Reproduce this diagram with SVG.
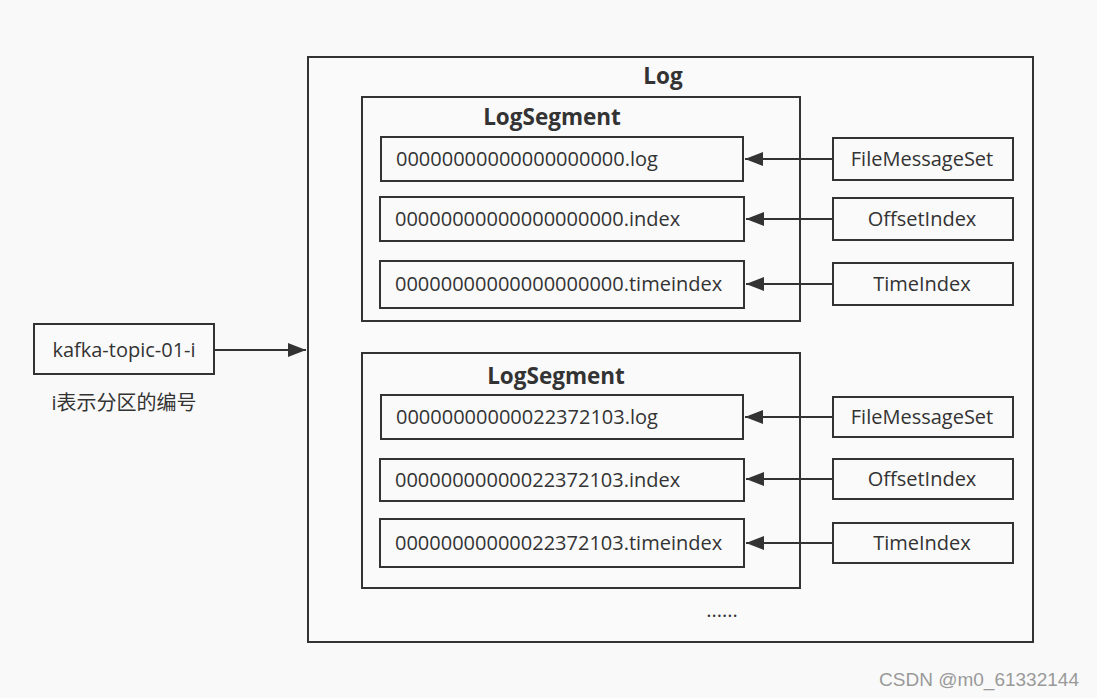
<svg xmlns="http://www.w3.org/2000/svg" width="1097" height="698" viewBox="0 0 1097 698">
<style>
.b{fill:#fafafa;stroke:#333;stroke-width:2}
.t{font-family:"Open Sans","Noto Sans CJK SC",sans-serif;font-size:20px;fill:#333}
.h{font-family:"Open Sans",sans-serif;font-size:22.5px;font-weight:bold;fill:#333}
.c{stroke:#333;stroke-width:2;fill:none;marker-end:url(#a)}
</style>
<defs><marker id="a" markerWidth="18" markerHeight="14" refX="18" refY="7" orient="auto" markerUnits="userSpaceOnUse" viewBox="0 0 18 14"><path d="M0,0L18,7L0,14z" fill="#333"/></marker></defs>
<rect width="1097" height="698" fill="#f9f9f9"/>
<g id="log"><rect class="b" x="308" y="57" width="725" height="585"/><text class="h" x="663" y="84" text-anchor="middle">Log</text><text class="t" x="722" y="617" text-anchor="middle" font-size="13">......</text></g>
<g id="seg1"><rect class="b" x="362" y="97" width="438" height="224"/><text class="h" x="552" y="125" text-anchor="middle">LogSegment</text></g>
<g id="seg2"><rect class="b" x="362" y="353" width="438" height="235"/><text class="h" x="556" y="384" text-anchor="middle">LogSegment</text></g>
<g id="f1"><rect class="b" x="381" y="137" width="362" height="44"/><text class="t" x="396" y="166">00000000000000000000.log</text></g>
<g id="f2"><rect class="b" x="380" y="197" width="364" height="44"/><text class="t" x="395" y="226">00000000000000000000.index</text></g>
<g id="f3"><rect class="b" x="380" y="261" width="364" height="47"/><text class="t" x="395" y="291">00000000000000000000.timeindex</text></g>
<g id="f4"><rect class="b" x="381" y="395" width="362" height="44"/><text class="t" x="396" y="424">00000000000022372103.log</text></g>
<g id="f5"><rect class="b" x="380" y="459" width="364" height="42"/><text class="t" x="395" y="487">00000000000022372103.index</text></g>
<g id="f6"><rect class="b" x="380" y="519" width="364" height="48"/><text class="t" x="395" y="550">00000000000022372103.timeindex</text></g>
<g id="r1"><rect class="b" x="833" y="138" width="180" height="42"/><text class="t" x="922" y="166" text-anchor="middle">FileMessageSet</text></g>
<g id="r2"><rect class="b" x="833" y="198" width="180" height="42"/><text class="t" x="922" y="226" text-anchor="middle">OffsetIndex</text></g>
<g id="r3"><rect class="b" x="833" y="263" width="180" height="42"/><text class="t" x="922" y="291" text-anchor="middle">TimeIndex</text></g>
<g id="r4"><rect class="b" x="833" y="397" width="180" height="40"/><text class="t" x="922" y="424" text-anchor="middle">FileMessageSet</text></g>
<g id="r5"><rect class="b" x="833" y="459" width="180" height="40"/><text class="t" x="922" y="486" text-anchor="middle">OffsetIndex</text></g>
<g id="r6"><rect class="b" x="833" y="523" width="180" height="40"/><text class="t" x="922" y="550" text-anchor="middle">TimeIndex</text></g>
<g id="topic"><rect class="b" x="34" y="324" width="180" height="50"/><text class="t" x="124" y="357" text-anchor="middle">kafka-topic-01-i</text><text class="t" x="124" y="410" text-anchor="middle">i表示分区的编号</text></g>
<g id="connectors">
<path class="c" d="M214,350H306"/>
<path class="c" d="M833,159H745"/>
<path class="c" d="M833,219H746"/>
<path class="c" d="M833,284H746"/>
<path class="c" d="M833,417H745"/>
<path class="c" d="M833,479H746"/>
<path class="c" d="M833,543H746"/>
</g>
<text x="979" y="686" text-anchor="middle" font-family="Liberation Sans,sans-serif" font-size="19" fill="#999">CSDN @m0_61332144</text>
</svg>
